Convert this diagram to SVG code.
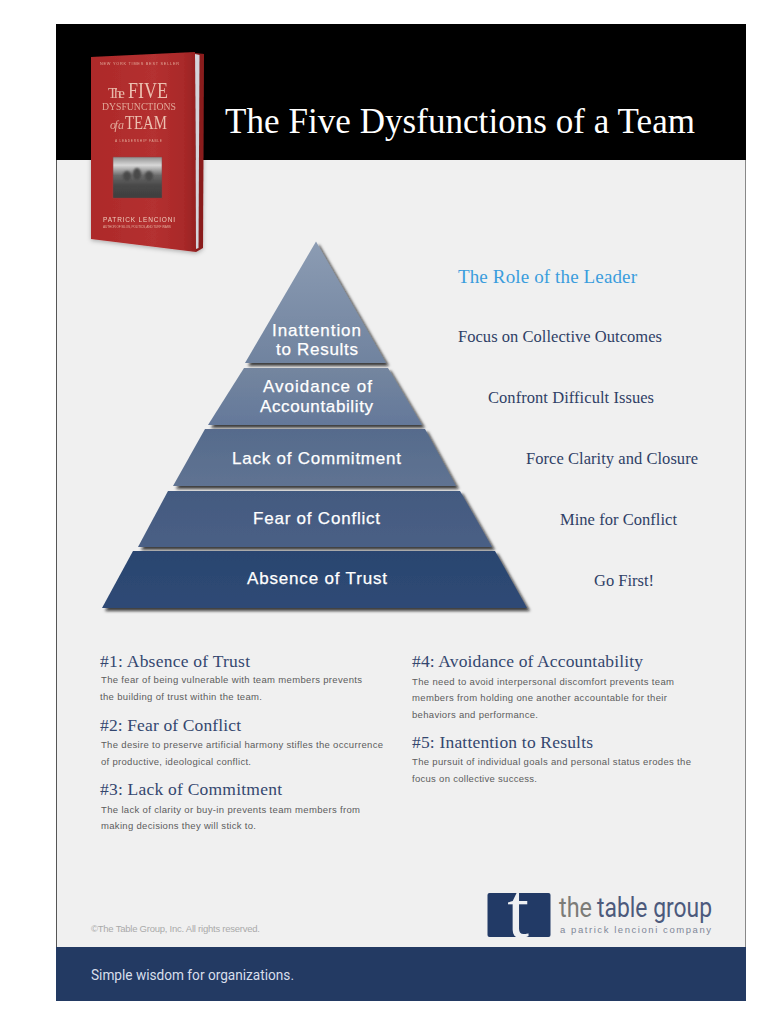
<svg xmlns="http://www.w3.org/2000/svg" width="768" height="1024" viewBox="0 0 768 1024">
<style>
.sf{font-family:"Liberation Serif","Times New Roman",serif}
.ss{font-family:"Liberation Sans",Arial,sans-serif}
.nr{font-family:"Roboto","Liberation Sans",sans-serif}
.tier{fill:#fff;font-size:17px;text-anchor:start;stroke:#fff;stroke-width:.25}
.role{fill:#2f3f66;font-size:16.5px}
.h{fill:#34476f;font-size:17.500px}
.b{fill:#5c5c5c;font-size:9.500px}
.bk{fill:#e2a898}
</style>
<defs>
<linearGradient id="g1" x1="0" y1="0" x2="0" y2="1"><stop offset="0" stop-color="#8c9cb3"/><stop offset="1" stop-color="#70839f"/></linearGradient>
<linearGradient id="g2" x1="0" y1="0" x2="0" y2="1"><stop offset="0" stop-color="#74869f"/><stop offset="1" stop-color="#64789a"/></linearGradient>
<linearGradient id="g3" x1="0" y1="0" x2="0" y2="1"><stop offset="0" stop-color="#566b8c"/><stop offset="1" stop-color="#5f7392"/></linearGradient>
<linearGradient id="g4" x1="0" y1="0" x2="0" y2="1"><stop offset="0" stop-color="#435a80"/><stop offset="1" stop-color="#4a5f85"/></linearGradient>
<linearGradient id="g5" x1="0" y1="0" x2="0" y2="1"><stop offset="0" stop-color="#2a4570"/><stop offset="1" stop-color="#2f4a75"/></linearGradient>
<linearGradient id="cover" x1="0" y1="0" x2="1" y2="0"><stop offset="0" stop-color="#ad2a2a"/><stop offset=".6" stop-color="#b43030"/><stop offset=".88" stop-color="#a92929"/><stop offset="1" stop-color="#962222"/></linearGradient>
<linearGradient id="win" x1="0" y1="0" x2="0" y2="1"><stop offset="0" stop-color="#8f8f8f"/><stop offset=".2" stop-color="#d8d8d8"/><stop offset=".45" stop-color="#6a6a6a"/><stop offset=".7" stop-color="#484848"/><stop offset="1" stop-color="#3e3e3e"/></linearGradient>
<filter id="sh" x="-10%" y="-10%" width="125%" height="130%"><feDropShadow dx="3" dy="3" stdDeviation="1.5" flood-color="#111" flood-opacity=".8"/></filter>
<filter id="soft" x="-10%" y="-10%" width="120%" height="120%"><feGaussianBlur stdDeviation=".4"/></filter>
<filter id="soft2" x="-30%" y="-30%" width="160%" height="160%"><feGaussianBlur stdDeviation="1"/></filter>
<filter id="bsh" x="-15%" y="-10%" width="130%" height="125%"><feDropShadow dx="0" dy="1.500" stdDeviation="2" flood-color="#000" flood-opacity=".28"/></filter>
</defs>

<rect width="768" height="1024" fill="#fff"/>
<g id="page">
<rect x="56" y="24" width="689.500" height="977" fill="#f0f0f0"/>
<rect x="56" y="160" width="1" height="787" fill="#555"/>
<rect x="745" y="160" width="1" height="787" fill="#888"/>
<rect x="56" y="24" width="690" height="136" fill="#000"/>
<rect x="56" y="947" width="690" height="54" fill="#233a63"/>
</g>

<g id="title"><text class="sf" x="225" y="133" font-size="35" fill="#fff" textLength="470" lengthAdjust="spacing">The Five Dysfunctions of a Team</text></g>

<g id="book" filter="url(#bsh)">
<polygon points="195,53 204,54 203,248 196,252" fill="#8a1e1e"/>
<polygon points="195,54 199.500,55 198.500,248 196,249" fill="#d4d4da"/>
<polygon points="91,57 195,52 196,252 91,239" fill="url(#cover)"/>
<g filter="url(#soft)">
<text class="ss bk" x="100" y="65" font-size="3.800" textLength="79">NEW YORK TIMES BEST SELLER</text>
<text class="sf" x="108" y="98" font-size="15" fill="#e8b8a8" textLength="17">The</text>
<text class="sf" x="128" y="98" font-size="24" fill="#ecc0b0" textLength="40" lengthAdjust="spacingAndGlyphs">FIVE</text>
<text class="sf bk" x="102" y="110" font-size="10.500" textLength="74" lengthAdjust="spacingAndGlyphs">DYSFUNCTIONS</text>
<text class="sf bk" x="110" y="129" font-size="12" font-style="italic" textLength="14">of a</text>
<text class="sf" x="125" y="129" font-size="18" fill="#ecc0b0" textLength="42" lengthAdjust="spacingAndGlyphs">TEAM</text>
<text class="ss bk" x="115" y="142" font-size="3.200" textLength="47">A LEADERSHIP FABLE</text>
<rect x="113" y="157" width="49" height="41" fill="url(#win)" stroke="#8a3a3a" stroke-width=".5"/>
<g filter="url(#soft2)" fill="#4a4a4a">
<ellipse cx="127" cy="176" rx="4" ry="5"/><ellipse cx="137" cy="174" rx="4" ry="6"/><ellipse cx="149" cy="176" rx="4" ry="5"/>
</g>
<text class="ss" x="103" y="222" font-size="6.500" fill="#f0cdbd" textLength="72">PATRICK LENCIONI</text>
<text class="ss bk" x="103" y="228" font-size="3.200" textLength="68">AUTHOR OF SILOS, POLITICS, AND TURF WARS</text>
</g>
</g>

<g id="connectors"/>

<g id="tier-inattention">
<polygon points="316,241.500 386,363 245,363" fill="url(#g1)" filter="url(#sh)"/>
<text class="ss tier" x="272" y="336" textLength="89">Inattention</text>
<text class="ss tier" x="276" y="355" textLength="82">to Results</text>
</g>
<g id="tier-avoidance">
<polygon points="244,368 388,368 422,425 208,425" fill="url(#g2)" filter="url(#sh)"/>
<text class="ss tier" x="263" y="392" textLength="109">Avoidance of</text>
<text class="ss tier" x="260" y="412" textLength="113">Accountability</text>
</g>
<g id="tier-commitment">
<polygon points="205,429 425,429 456,486 173,486" fill="url(#g3)" filter="url(#sh)"/>
<text class="ss tier" x="232" y="464" textLength="169">Lack of Commitment</text>
</g>
<g id="tier-conflict">
<polygon points="168,491 460,491 492,547 138,547" fill="url(#g4)" filter="url(#sh)"/>
<text class="ss tier" x="253" y="524" textLength="127">Fear of Conflict</text>
</g>
<g id="tier-trust">
<polygon points="133,551 495,551 527,608 102,608" fill="url(#g5)" filter="url(#sh)"/>
<text class="ss tier" x="247" y="584" textLength="140">Absence of Trust</text>
</g>

<g id="leader-roles" class="sf">
<text x="458" y="283" font-size="19" fill="#3a9ddd" textLength="179">The Role of the Leader</text>
<text class="role" x="458" y="342" textLength="204">Focus on Collective Outcomes</text>
<text class="role" x="488" y="403" textLength="166">Confront Difficult Issues</text>
<text class="role" x="526" y="464" textLength="172">Force Clarity and Closure</text>
<text class="role" x="560" y="525" textLength="117">Mine for Conflict</text>
<text class="role" x="594" y="586" textLength="60">Go First!</text>
</g>

<g id="desc-1">
<text class="sf h" x="100" y="667" textLength="150">#1: Absence of Trust</text>
<text class="ss b" x="101" y="683" textLength="261">The fear of being vulnerable with team members prevents</text>
<text class="ss b" x="100" y="700" textLength="162">the building of trust within the team.</text>
</g>
<g id="desc-2">
<text class="sf h" x="100" y="731" textLength="141">#2: Fear of Conflict</text>
<text class="ss b" x="101" y="748" textLength="282">The desire to preserve artificial harmony stifles the occurrence</text>
<text class="ss b" x="101" y="765" textLength="150">of productive, ideological conflict.</text>
</g>
<g id="desc-3">
<text class="sf h" x="100" y="795" textLength="182">#3: Lack of Commitment</text>
<text class="ss b" x="101" y="813" textLength="259">The lack of clarity or buy-in prevents team members from</text>
<text class="ss b" x="101" y="829" textLength="155">making decisions they will stick to.</text>
</g>
<g id="desc-4">
<text class="sf h" x="412" y="667" textLength="231">#4: Avoidance of Accountability</text>
<text class="ss b" x="412" y="685" textLength="262">The need to avoid interpersonal discomfort prevents team</text>
<text class="ss b" x="412" y="701" textLength="255">members from holding one another accountable for their</text>
<text class="ss b" x="412" y="718" textLength="126">behaviors and performance.</text>
</g>
<g id="desc-5">
<text class="sf h" x="412" y="748" textLength="181">#5: Inattention to Results</text>
<text class="ss b" x="412" y="765" textLength="279">The pursuit of individual goals and personal status erodes the</text>
<text class="ss b" x="412" y="782" textLength="125">focus on collective success.</text>
</g>

<g id="logo">
<rect x="487.500" y="893" width="63" height="44" rx="2" fill="#223a66"/>
<text class="sf" x="518" y="937" font-size="78" fill="#eef0f3" text-anchor="middle">t</text>
<text class="nr" x="559" y="917" font-size="28" fill="#7c7c78" textLength="33" lengthAdjust="spacingAndGlyphs">the</text>
<text class="nr" x="597" y="917" font-size="28" fill="#4c5a7c" textLength="115" lengthAdjust="spacingAndGlyphs">table group</text>
<text class="ss" x="560" y="933" font-size="9.500" fill="#7f8798" textLength="151">a patrick lencioni company</text>
</g>

<g id="footer">
<text class="ss" x="91" y="932" font-size="9.500" fill="#aaa" textLength="169">©The Table Group, Inc. All rights reserved.</text>
<text class="nr" x="91" y="980" font-size="15.500" fill="#d8dfeb" textLength="203" lengthAdjust="spacingAndGlyphs">Simple wisdom for organizations.</text>
</g>
</svg>
